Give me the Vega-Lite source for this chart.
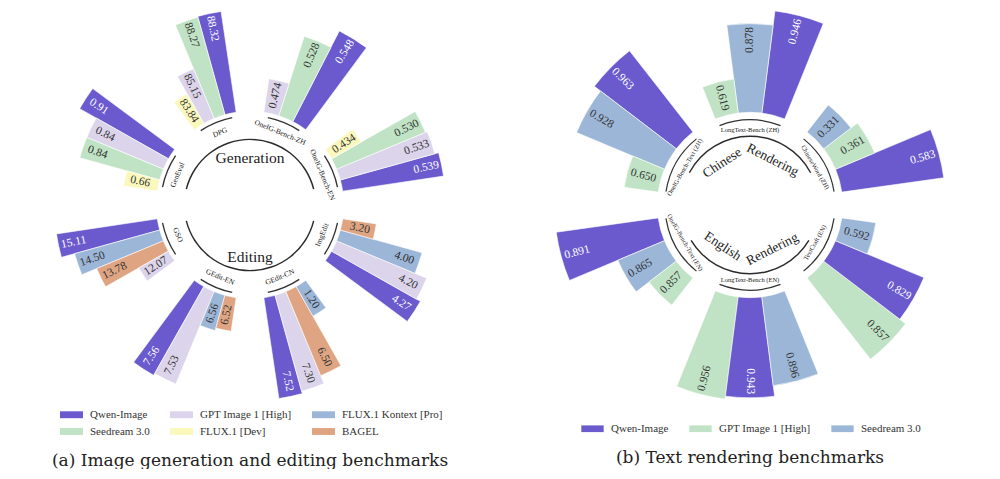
{
  "$schema": "https://vega.github.io/schema/vega-lite/v6.json",
  "padding": 0,
  "spacing": 0,
  "background": "white",
  "config": {"view": {"stroke": null}, "font": "Liberation Serif"},
  "datasets": {
    "bench": [
      {"panel": "a", "section": "Generation", "benchmark": "GenEval", "model": "Qwen-Image", "value": 0.91},
      {"panel": "a", "section": "Generation", "benchmark": "GenEval", "model": "GPT Image 1 [High]", "value": 0.84},
      {"panel": "a", "section": "Generation", "benchmark": "GenEval", "model": "Seedream 3.0", "value": 0.84},
      {"panel": "a", "section": "Generation", "benchmark": "GenEval", "model": "FLUX.1 [Dev]", "value": 0.66},
      {"panel": "a", "section": "Generation", "benchmark": "DPG", "model": "Qwen-Image", "value": 88.32},
      {"panel": "a", "section": "Generation", "benchmark": "DPG", "model": "Seedream 3.0", "value": 88.27},
      {"panel": "a", "section": "Generation", "benchmark": "DPG", "model": "GPT Image 1 [High]", "value": 85.15},
      {"panel": "a", "section": "Generation", "benchmark": "DPG", "model": "FLUX.1 [Dev]", "value": 83.84},
      {"panel": "a", "section": "Generation", "benchmark": "OneIG-Bench-ZH", "model": "Qwen-Image", "value": 0.548},
      {"panel": "a", "section": "Generation", "benchmark": "OneIG-Bench-ZH", "model": "Seedream 3.0", "value": 0.528},
      {"panel": "a", "section": "Generation", "benchmark": "OneIG-Bench-ZH", "model": "GPT Image 1 [High]", "value": 0.474},
      {"panel": "a", "section": "Generation", "benchmark": "OneIG-Bench-EN", "model": "Qwen-Image", "value": 0.539},
      {"panel": "a", "section": "Generation", "benchmark": "OneIG-Bench-EN", "model": "GPT Image 1 [High]", "value": 0.533},
      {"panel": "a", "section": "Generation", "benchmark": "OneIG-Bench-EN", "model": "Seedream 3.0", "value": 0.530},
      {"panel": "a", "section": "Generation", "benchmark": "OneIG-Bench-EN", "model": "FLUX.1 [Dev]", "value": 0.434},
      {"panel": "a", "section": "Editing", "benchmark": "ImgEdit", "model": "Qwen-Image", "value": 4.27},
      {"panel": "a", "section": "Editing", "benchmark": "ImgEdit", "model": "GPT Image 1 [High]", "value": 4.20},
      {"panel": "a", "section": "Editing", "benchmark": "ImgEdit", "model": "FLUX.1 Kontext [Pro]", "value": 4.00},
      {"panel": "a", "section": "Editing", "benchmark": "ImgEdit", "model": "BAGEL", "value": 3.20},
      {"panel": "a", "section": "Editing", "benchmark": "GEdit-CN", "model": "Qwen-Image", "value": 7.52},
      {"panel": "a", "section": "Editing", "benchmark": "GEdit-CN", "model": "GPT Image 1 [High]", "value": 7.30},
      {"panel": "a", "section": "Editing", "benchmark": "GEdit-CN", "model": "BAGEL", "value": 6.50},
      {"panel": "a", "section": "Editing", "benchmark": "GEdit-CN", "model": "FLUX.1 Kontext [Pro]", "value": 1.20},
      {"panel": "a", "section": "Editing", "benchmark": "GEdit-EN", "model": "Qwen-Image", "value": 7.56},
      {"panel": "a", "section": "Editing", "benchmark": "GEdit-EN", "model": "GPT Image 1 [High]", "value": 7.53},
      {"panel": "a", "section": "Editing", "benchmark": "GEdit-EN", "model": "FLUX.1 Kontext [Pro]", "value": 6.56},
      {"panel": "a", "section": "Editing", "benchmark": "GEdit-EN", "model": "BAGEL", "value": 6.52},
      {"panel": "a", "section": "Editing", "benchmark": "GSO", "model": "Qwen-Image", "value": 15.11},
      {"panel": "a", "section": "Editing", "benchmark": "GSO", "model": "FLUX.1 Kontext [Pro]", "value": 14.50},
      {"panel": "a", "section": "Editing", "benchmark": "GSO", "model": "BAGEL", "value": 13.78},
      {"panel": "a", "section": "Editing", "benchmark": "GSO", "model": "GPT Image 1 [High]", "value": 12.07},
      {"panel": "b", "section": "Chinese Rendering", "benchmark": "LongText-Bench (ZH)", "model": "Qwen-Image", "value": 0.946},
      {"panel": "b", "section": "Chinese Rendering", "benchmark": "LongText-Bench (ZH)", "model": "Seedream 3.0", "value": 0.878},
      {"panel": "b", "section": "Chinese Rendering", "benchmark": "LongText-Bench (ZH)", "model": "GPT Image 1 [High]", "value": 0.619},
      {"panel": "b", "section": "Chinese Rendering", "benchmark": "ChineseWord (ZH)", "model": "Qwen-Image", "value": 0.583},
      {"panel": "b", "section": "Chinese Rendering", "benchmark": "ChineseWord (ZH)", "model": "GPT Image 1 [High]", "value": 0.361},
      {"panel": "b", "section": "Chinese Rendering", "benchmark": "ChineseWord (ZH)", "model": "Seedream 3.0", "value": 0.331},
      {"panel": "b", "section": "Chinese Rendering", "benchmark": "OneIG-Bench-Text (ZH)", "model": "Qwen-Image", "value": 0.963},
      {"panel": "b", "section": "Chinese Rendering", "benchmark": "OneIG-Bench-Text (ZH)", "model": "Seedream 3.0", "value": 0.928},
      {"panel": "b", "section": "Chinese Rendering", "benchmark": "OneIG-Bench-Text (ZH)", "model": "GPT Image 1 [High]", "value": 0.650},
      {"panel": "b", "section": "English Rendering", "benchmark": "TextCraft (EN)", "model": "GPT Image 1 [High]", "value": 0.857},
      {"panel": "b", "section": "English Rendering", "benchmark": "TextCraft (EN)", "model": "Qwen-Image", "value": 0.829},
      {"panel": "b", "section": "English Rendering", "benchmark": "TextCraft (EN)", "model": "Seedream 3.0", "value": 0.592},
      {"panel": "b", "section": "English Rendering", "benchmark": "LongText-Bench (EN)", "model": "GPT Image 1 [High]", "value": 0.956},
      {"panel": "b", "section": "English Rendering", "benchmark": "LongText-Bench (EN)", "model": "Qwen-Image", "value": 0.943},
      {"panel": "b", "section": "English Rendering", "benchmark": "LongText-Bench (EN)", "model": "Seedream 3.0", "value": 0.896},
      {"panel": "b", "section": "English Rendering", "benchmark": "OneIG-Bench-Text (EN)", "model": "Qwen-Image", "value": 0.891},
      {"panel": "b", "section": "English Rendering", "benchmark": "OneIG-Bench-Text (EN)", "model": "Seedream 3.0", "value": 0.865},
      {"panel": "b", "section": "English Rendering", "benchmark": "OneIG-Bench-Text (EN)", "model": "GPT Image 1 [High]", "value": 0.857}
    ]
  },
  "resolve": {"scale": {"color": "independent", "theta": "independent", "radius": "independent"}, "legend": {"color": "independent"}},
  "hconcat": [
    {
      "width": 500,
      "height": 410,
      "title": {"text": "(a) Image generation and editing benchmarks", "orient": "bottom", "anchor": "middle", "font": "DejaVu Serif", "fontSize": 17, "fontWeight": "normal", "color": "#222222", "offset": 16},
      "data": {"name": "bench"},
      "transform": [
        {"filter": "datum.panel === 'a'"},
        {"joinaggregate": [{"op": "min", "field": "value", "as": "vmin"}, {"op": "max", "field": "value", "as": "vmax"}, {"op": "count", "as": "n"}], "groupby": ["benchmark"]},
        {"window": [{"op": "row_number", "as": "k"}], "sort": [{"field": "value", "order": "ascending"}, {"field": "model", "order": "descending"}], "groupby": ["benchmark"]},
        {"calculate": "22.5 + 45 * indexof(['OneIG-Bench-ZH','OneIG-Bench-EN','ImgEdit','GEdit-CN','GEdit-EN','GSO','GenEval','DPG'], datum.benchmark)", "as": "c"},
        {"calculate": "datum.c - 14 + (datum.k - 1) * 28 / datum.n", "as": "t0"},
        {"calculate": "datum.c - 14 + datum.k * 28 / datum.n", "as": "t1"},
        {"calculate": "(datum.t0 + datum.t1) / 2", "as": "tm"},
        {"calculate": "datum.tm <= 180 ? datum.tm - 90 : datum.tm - 270", "as": "ta"},
        {"calculate": "datum.vmin - 0.5 * (datum.vmax - datum.vmin)", "as": "lo"},
        {"calculate": "91", "as": "r0"},
        {"calculate": "91 + 99 * (datum.value - datum.lo) / (datum.vmax - datum.lo)", "as": "r1"},
        {"calculate": "datum.r1 - 15", "as": "rt"},
        {"calculate": "indexof(['OneIG-Bench-ZH','OneIG-Bench-EN'], datum.benchmark) >= 0 ? format(datum.value, '.3f') : format(datum.value, '.2f')", "as": "label"}
      ],
      "layer": [
        {
          "mark": {"type": "arc", "stroke": "white", "strokeWidth": 0.6},
          "encoding": {
            "theta": {"field": "t0", "type": "quantitative", "stack": null, "scale": {"type": "linear", "domain": [0, 360], "range": [0, 6.283185307179586], "nice": false}},
            "theta2": {"field": "t1"},
            "radius": {"field": "r1", "type": "quantitative", "scale": {"type": "linear", "domain": [0, 200], "range": [0, 206], "nice": false, "zero": true}},
            "radius2": {"field": "r0"},
            "color": {
              "field": "model", "type": "nominal",
              "scale": {"domain": ["Qwen-Image", "Seedream 3.0", "GPT Image 1 [High]", "FLUX.1 [Dev]", "FLUX.1 Kontext [Pro]", "BAGEL"], "range": ["#6a5acd", "#bfe3c4", "#dcd4ea", "#fbf8bd", "#9cb6d8", "#dfa582"]},
              "legend": {"title": null, "orient": "none", "legendX": 60, "legendY": 403, "columns": 3, "columnPadding": 20, "rowPadding": -7, "padding": 0, "labelFont": "Liberation Serif", "labelFontSize": 11, "labelColor": "#333333", "labelOffset": 7, "symbolType": "M-1,-0.3H1V0.3H-1Z", "symbolSize": 529, "symbolStrokeWidth": 0, "symbolOpacity": 1}
            }
          }
        },
        {
          "mark": {"type": "text", "font": "Liberation Serif", "fontSize": 11.5, "align": "center", "baseline": "middle"},
          "encoding": {
            "theta": {"field": "tm", "type": "quantitative", "stack": null, "scale": {"type": "linear", "domain": [0, 360], "range": [0, 6.283185307179586], "nice": false}},
            "radius": {"field": "rt", "type": "quantitative", "scale": {"type": "linear", "domain": [0, 200], "range": [0, 206], "nice": false, "zero": true}},
            "text": {"field": "label"},
            "angle": {"field": "ta", "type": "quantitative", "scale": {"domain": [-180, 180], "range": [-180, 180], "nice": false}},
            "color": {"condition": {"test": "datum.model === 'Qwen-Image'", "value": "#ffffff"}, "value": "#333333"}
          }
        },
        {
          "transform": [
            {"aggregate": [{"op": "count", "as": "cnt"}], "groupby": ["benchmark", "c"]},
            {"calculate": "datum.c - 11", "as": "g0"},
            {"calculate": "datum.c + 11", "as": "g1"},
            {"calculate": "86", "as": "gr0"},
            {"calculate": "87.3", "as": "gr1"}
          ],
          "mark": {"type": "arc", "fill": "#333333"},
          "encoding": {
            "theta": {"field": "g0", "type": "quantitative", "stack": null, "scale": {"type": "linear", "domain": [0, 360], "range": [0, 6.283185307179586], "nice": false}},
            "theta2": {"field": "g1"},
            "radius": {"field": "gr1", "type": "quantitative", "scale": {"type": "linear", "domain": [0, 200], "range": [0, 206], "nice": false, "zero": true}},
            "radius2": {"field": "gr0"}
          }
        },
        {
          "transform": [
            {"aggregate": [{"op": "count", "as": "cnt"}], "groupby": ["benchmark", "c"]},
            {"calculate": "76", "as": "lr"},
            {"calculate": "(datum.c > 90 && datum.c < 270) ? datum.c - 180 : (datum.c >= 270 ? datum.c - 360 : datum.c)", "as": "la"}
          ],
          "mark": {"type": "text", "font": "Liberation Serif", "fontSize": 7.5, "align": "center", "baseline": "middle", "color": "#222222"},
          "encoding": {
            "theta": {"field": "c", "type": "quantitative", "stack": null, "scale": {"type": "linear", "domain": [0, 360], "range": [0, 6.283185307179586], "nice": false}},
            "radius": {"field": "lr", "type": "quantitative", "scale": {"type": "linear", "domain": [0, 200], "range": [0, 206], "nice": false, "zero": true}},
            "text": {"field": "benchmark"},
            "angle": {"field": "la", "type": "quantitative", "scale": {"domain": [-180, 180], "range": [-180, 180], "nice": false}}
          }
        },
        {
          "transform": [
            {"aggregate": [{"op": "count", "as": "cnt"}], "groupby": ["section"]},
            {"calculate": "datum.section === 'Generation' ? 0 : 180", "as": "sc"},
            {"calculate": "datum.sc - 76", "as": "s0"},
            {"calculate": "datum.sc + 76", "as": "s1"},
            {"calculate": "63", "as": "sr0"},
            {"calculate": "64.4", "as": "sr1"}
          ],
          "mark": {"type": "arc", "fill": "#2b2b2b"},
          "encoding": {
            "theta": {"field": "s0", "type": "quantitative", "stack": null, "scale": {"type": "linear", "domain": [0, 360], "range": [0, 6.283185307179586], "nice": false}},
            "theta2": {"field": "s1"},
            "radius": {"field": "sr1", "type": "quantitative", "scale": {"type": "linear", "domain": [0, 200], "range": [0, 206], "nice": false, "zero": true}},
            "radius2": {"field": "sr0"}
          }
        },
        {
          "transform": [
            {"aggregate": [{"op": "count", "as": "cnt"}], "groupby": ["section"]},
            {"calculate": "datum.section === 'Generation' ? 0 : 180", "as": "sc"},
            {"calculate": "datum.section === 'Generation' ? 46 : 50", "as": "sr"}
          ],
          "mark": {"type": "text", "font": "Liberation Serif", "fontSize": 15.5, "align": "center", "baseline": "middle", "color": "#222222"},
          "encoding": {
            "theta": {"field": "sc", "type": "quantitative", "stack": null, "scale": {"type": "linear", "domain": [0, 360], "range": [0, 6.283185307179586], "nice": false}},
            "radius": {"field": "sr", "type": "quantitative", "scale": {"type": "linear", "domain": [0, 200], "range": [0, 206], "nice": false, "zero": true}},
            "text": {"field": "section"}
          }
        }
      ]
    },
    {
      "width": 500,
      "height": 410,
      "title": {"text": "(b) Text rendering benchmarks", "orient": "bottom", "anchor": "middle", "font": "DejaVu Serif", "fontSize": 17, "fontWeight": "normal", "color": "#222222", "offset": 16},
      "data": {"name": "bench"},
      "transform": [
        {"filter": "datum.panel === 'b'"},
        {"joinaggregate": [{"op": "min", "field": "value", "as": "vmin"}, {"op": "max", "field": "value", "as": "vmax"}, {"op": "count", "as": "n"}], "groupby": ["benchmark"]},
        {"window": [{"op": "row_number", "as": "k"}], "sort": [{"field": "value", "order": "ascending"}, {"field": "model", "order": "descending"}], "groupby": ["benchmark"]},
        {"calculate": "60 * indexof(['LongText-Bench (ZH)','ChineseWord (ZH)','TextCraft (EN)','LongText-Bench (EN)','OneIG-Bench-Text (EN)','OneIG-Bench-Text (ZH)'], datum.benchmark)", "as": "c"},
        {"calculate": "datum.c - 22 + (datum.k - 1) * 44 / datum.n", "as": "t0"},
        {"calculate": "datum.c - 22 + datum.k * 44 / datum.n", "as": "t1"},
        {"calculate": "(datum.t0 + datum.t1) / 2", "as": "tm"},
        {"calculate": "(datum.tm + 360) % 360", "as": "tn"},
        {"calculate": "datum.tn <= 180 ? datum.tn - 90 : datum.tn - 270", "as": "ta"},
        {"calculate": "datum.benchmark === 'LongText-Bench (EN)' ? 0.5 : datum.vmin - 0.5 * (datum.vmax - datum.vmin)", "as": "lo"},
        {"calculate": "90", "as": "r0"},
        {"calculate": "90 + 100 * (datum.value - datum.lo) / (datum.vmax - datum.lo)", "as": "r1"},
        {"calculate": "datum.r1 - 16", "as": "rt"},
        {"calculate": "format(datum.value, '.3f')", "as": "label"}
      ],
      "layer": [
        {
          "mark": {"type": "arc", "stroke": "white", "strokeWidth": 0.6},
          "encoding": {
            "theta": {"field": "t0", "type": "quantitative", "stack": null, "scale": {"type": "linear", "domain": [0, 360], "range": [0, 6.283185307179586], "nice": false}},
            "theta2": {"field": "t1"},
            "radius": {"field": "r1", "type": "quantitative", "scale": {"type": "linear", "domain": [0, 200], "range": [0, 206], "nice": false, "zero": true}},
            "radius2": {"field": "r0"},
            "color": {
              "field": "model", "type": "nominal",
              "scale": {"domain": ["Qwen-Image", "GPT Image 1 [High]", "Seedream 3.0"], "range": ["#6a5acd", "#bfe3c4", "#9cb6d8"]},
              "legend": {"title": null, "orient": "none", "legendX": 81, "legendY": 417, "columns": 3, "columnPadding": 20, "rowPadding": 3, "padding": 0, "labelFont": "Liberation Serif", "labelFontSize": 11, "labelColor": "#333333", "labelOffset": 7, "symbolType": "M-1,-0.3H1V0.3H-1Z", "symbolSize": 500, "symbolStrokeWidth": 0, "symbolOpacity": 1}
            }
          }
        },
        {
          "mark": {"type": "text", "font": "Liberation Serif", "fontSize": 11.5, "align": "center", "baseline": "middle"},
          "encoding": {
            "theta": {"field": "tm", "type": "quantitative", "stack": null, "scale": {"type": "linear", "domain": [0, 360], "range": [0, 6.283185307179586], "nice": false}},
            "radius": {"field": "rt", "type": "quantitative", "scale": {"type": "linear", "domain": [0, 200], "range": [0, 206], "nice": false, "zero": true}},
            "text": {"field": "label"},
            "angle": {"field": "ta", "type": "quantitative", "scale": {"domain": [-180, 180], "range": [-180, 180], "nice": false}},
            "color": {"condition": {"test": "datum.model === 'Qwen-Image'", "value": "#ffffff"}, "value": "#333333"}
          }
        },
        {
          "transform": [
            {"aggregate": [{"op": "count", "as": "cnt"}], "groupby": ["benchmark", "c"]},
            {"calculate": "datum.c - 21", "as": "g0"},
            {"calculate": "datum.c + 21", "as": "g1"},
            {"calculate": "82", "as": "gr0"},
            {"calculate": "83.2", "as": "gr1"}
          ],
          "mark": {"type": "arc", "fill": "#333333"},
          "encoding": {
            "theta": {"field": "g0", "type": "quantitative", "stack": null, "scale": {"type": "linear", "domain": [0, 360], "range": [0, 6.283185307179586], "nice": false}},
            "theta2": {"field": "g1"},
            "radius": {"field": "gr1", "type": "quantitative", "scale": {"type": "linear", "domain": [0, 200], "range": [0, 206], "nice": false, "zero": true}},
            "radius2": {"field": "gr0"}
          }
        },
        {
          "transform": [
            {"aggregate": [{"op": "count", "as": "cnt"}], "groupby": ["benchmark", "c"]},
            {"calculate": "73", "as": "lr"},
            {"calculate": "(datum.c > 90 && datum.c < 270) ? datum.c - 180 : (datum.c >= 270 ? datum.c - 360 : datum.c)", "as": "la"}
          ],
          "mark": {"type": "text", "font": "Liberation Serif", "fontSize": 6.5, "align": "center", "baseline": "middle", "color": "#222222"},
          "encoding": {
            "theta": {"field": "c", "type": "quantitative", "stack": null, "scale": {"type": "linear", "domain": [0, 360], "range": [0, 6.283185307179586], "nice": false}},
            "radius": {"field": "lr", "type": "quantitative", "scale": {"type": "linear", "domain": [0, 200], "range": [0, 206], "nice": false, "zero": true}},
            "text": {"field": "benchmark"},
            "angle": {"field": "la", "type": "quantitative", "scale": {"domain": [-180, 180], "range": [-180, 180], "nice": false}}
          }
        },
        {
          "transform": [
            {"aggregate": [{"op": "count", "as": "cnt"}], "groupby": ["section"]},
            {"calculate": "datum.section === 'Chinese Rendering' ? 0 : 180", "as": "sc"},
            {"calculate": "datum.section === 'Chinese Rendering' ? datum.sc - 62 : datum.sc - 59", "as": "s0"},
            {"calculate": "datum.section === 'Chinese Rendering' ? datum.sc + 62 : datum.sc + 59", "as": "s1"},
            {"calculate": "66", "as": "sr0"},
            {"calculate": "67.4", "as": "sr1"}
          ],
          "mark": {"type": "arc", "fill": "#2b2b2b"},
          "encoding": {
            "theta": {"field": "s0", "type": "quantitative", "stack": null, "scale": {"type": "linear", "domain": [0, 360], "range": [0, 6.283185307179586], "nice": false}},
            "theta2": {"field": "s1"},
            "radius": {"field": "sr1", "type": "quantitative", "scale": {"type": "linear", "domain": [0, 200], "range": [0, 206], "nice": false, "zero": true}},
            "radius2": {"field": "sr0"}
          }
        },
        {
          "transform": [
            {"aggregate": [{"op": "count", "as": "cnt"}], "groupby": ["section"]},
            {"calculate": "split(datum.section, ' ')", "as": "words"},
            {"flatten": ["words"], "as": ["word"]},
            {"calculate": "(indexof(datum.section, datum.word) + length(datum.word) / 2 - length(datum.section) / 2) * 5.9 / 50.5 * 180 / PI", "as": "off"},
            {"calculate": "datum.section === 'Chinese Rendering' ? datum.off : 180 - datum.off", "as": "wt"},
            {"calculate": "datum.section === 'Chinese Rendering' ? datum.off : -datum.off", "as": "wa"},
            {"calculate": "datum.section === 'Chinese Rendering' ? 49 : 48", "as": "wr"}
          ],
          "mark": {"type": "text", "font": "Liberation Serif", "fontSize": 13.5, "align": "center", "baseline": "middle", "color": "#222222"},
          "encoding": {
            "theta": {"field": "wt", "type": "quantitative", "stack": null, "scale": {"type": "linear", "domain": [0, 360], "range": [0, 6.283185307179586], "nice": false}},
            "radius": {"field": "wr", "type": "quantitative", "scale": {"type": "linear", "domain": [0, 200], "range": [0, 206], "nice": false, "zero": true}},
            "text": {"field": "word"},
            "angle": {"field": "wa", "type": "quantitative", "scale": {"domain": [-180, 180], "range": [-180, 180], "nice": false}}
          }
        }
      ]
    }
  ]
}
